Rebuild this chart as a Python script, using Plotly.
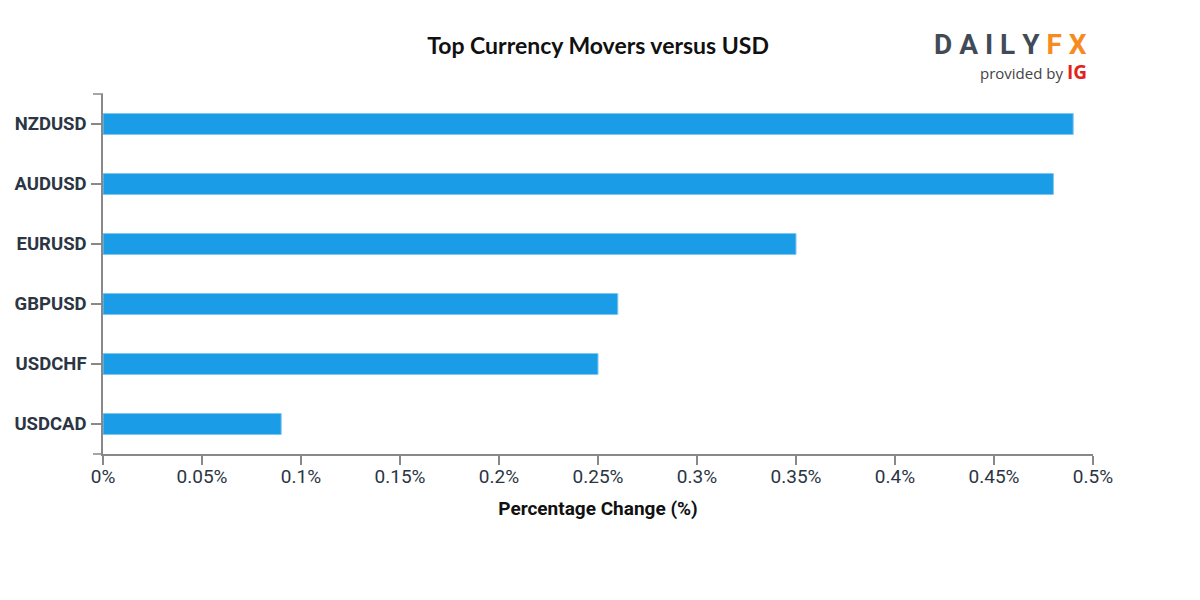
import plotly.graph_objects as go

pairs = ["NZDUSD", "AUDUSD", "EURUSD", "GBPUSD", "USDCHF", "USDCAD"]
changes = [0.49, 0.48, 0.35, 0.26, 0.25, 0.09]
tick_vals = [0, 0.05, 0.1, 0.15, 0.2, 0.25, 0.3, 0.35, 0.4, 0.45, 0.5]
tick_text = ["0%", "0.05%", "0.1%", "0.15%", "0.2%", "0.25%", "0.3%", "0.35%", "0.4%", "0.45%", "0.5%"]

fig = go.Figure(go.Bar(
    x=changes, y=pairs, orientation="h", width=0.35,
    marker=dict(color="#1a9de6", line=dict(color="#7fc8f0", width=1)),
))

fig.update_layout(
    width=1200, height=600,
    margin=dict(l=95, r=115, t=86, b=154),
    paper_bgcolor="white", plot_bgcolor="white",
    showlegend=False,
    font=dict(family="Roboto", color="#2b3543"),
    title=dict(text="Top Currency Movers versus USD", x=0.4917, xanchor="center",
               y=0.937, yanchor="middle",
               font=dict(family="Lato", size=23, color="#111111", weight="bold")),
)
fig.update_xaxes(
    automargin=False,
    range=[0, 0.5], tickvals=tick_vals, ticktext=tick_text,
    showgrid=False, zeroline=False, showline=True, linecolor="#888888", linewidth=1.5,
    ticks="outside", ticklen=9, tickcolor="#888888", tickwidth=1.5,
    ticklabelstandoff=-5,
    tickfont=dict(family="Roboto", size=19, color="#2b3543"),
    title=dict(text="Percentage Change (%)", standoff=15,
               font=dict(family="Roboto", size=19, color="#111111", weight="bold")),
)
fig.update_yaxes(
    automargin=False,
    autorange=False, range=[5.5, -0.5],
    showgrid=False, zeroline=False, showline=True, linecolor="#888888", linewidth=1.5,
    ticks="outside", ticklen=10, tickcolor="#888888", tickwidth=1.5,
    ticklabelstandoff=1,
    tickfont=dict(family="Roboto", size=18.5, color="#2b3543", weight="bold"),
)

# domain end ticks (d3 style)
fig.add_shape(type="line", xref="paper", yref="paper", x0=0, x1=-0.0101, y0=1, y1=1,
              line=dict(color="#888888", width=1.5))
fig.add_shape(type="line", xref="paper", yref="paper", x0=0, x1=-0.0101, y0=0, y1=0,
              line=dict(color="#888888", width=1.5))

# logo
fig.add_annotation(xref="paper", yref="paper", x=0.996, y=1.138, xanchor="right", yanchor="middle",
                   text="<span style='color:#414b56'>D A I L Y </span><span style='color:#f68b1f'>F X</span>",
                   showarrow=False, font=dict(family="Roboto", size=28, weight="bold"))
fig.add_annotation(xref="paper", yref="paper", x=0.996, y=1.06, xanchor="right", yanchor="middle",
                   text="<span style='color:#444'>provided by </span><span style='color:#e2231a;font-weight:bold;font-size:19px'>IG</span>",
                   showarrow=False, font=dict(family="Open Sans", size=15))

fig.write_html("out.html")
